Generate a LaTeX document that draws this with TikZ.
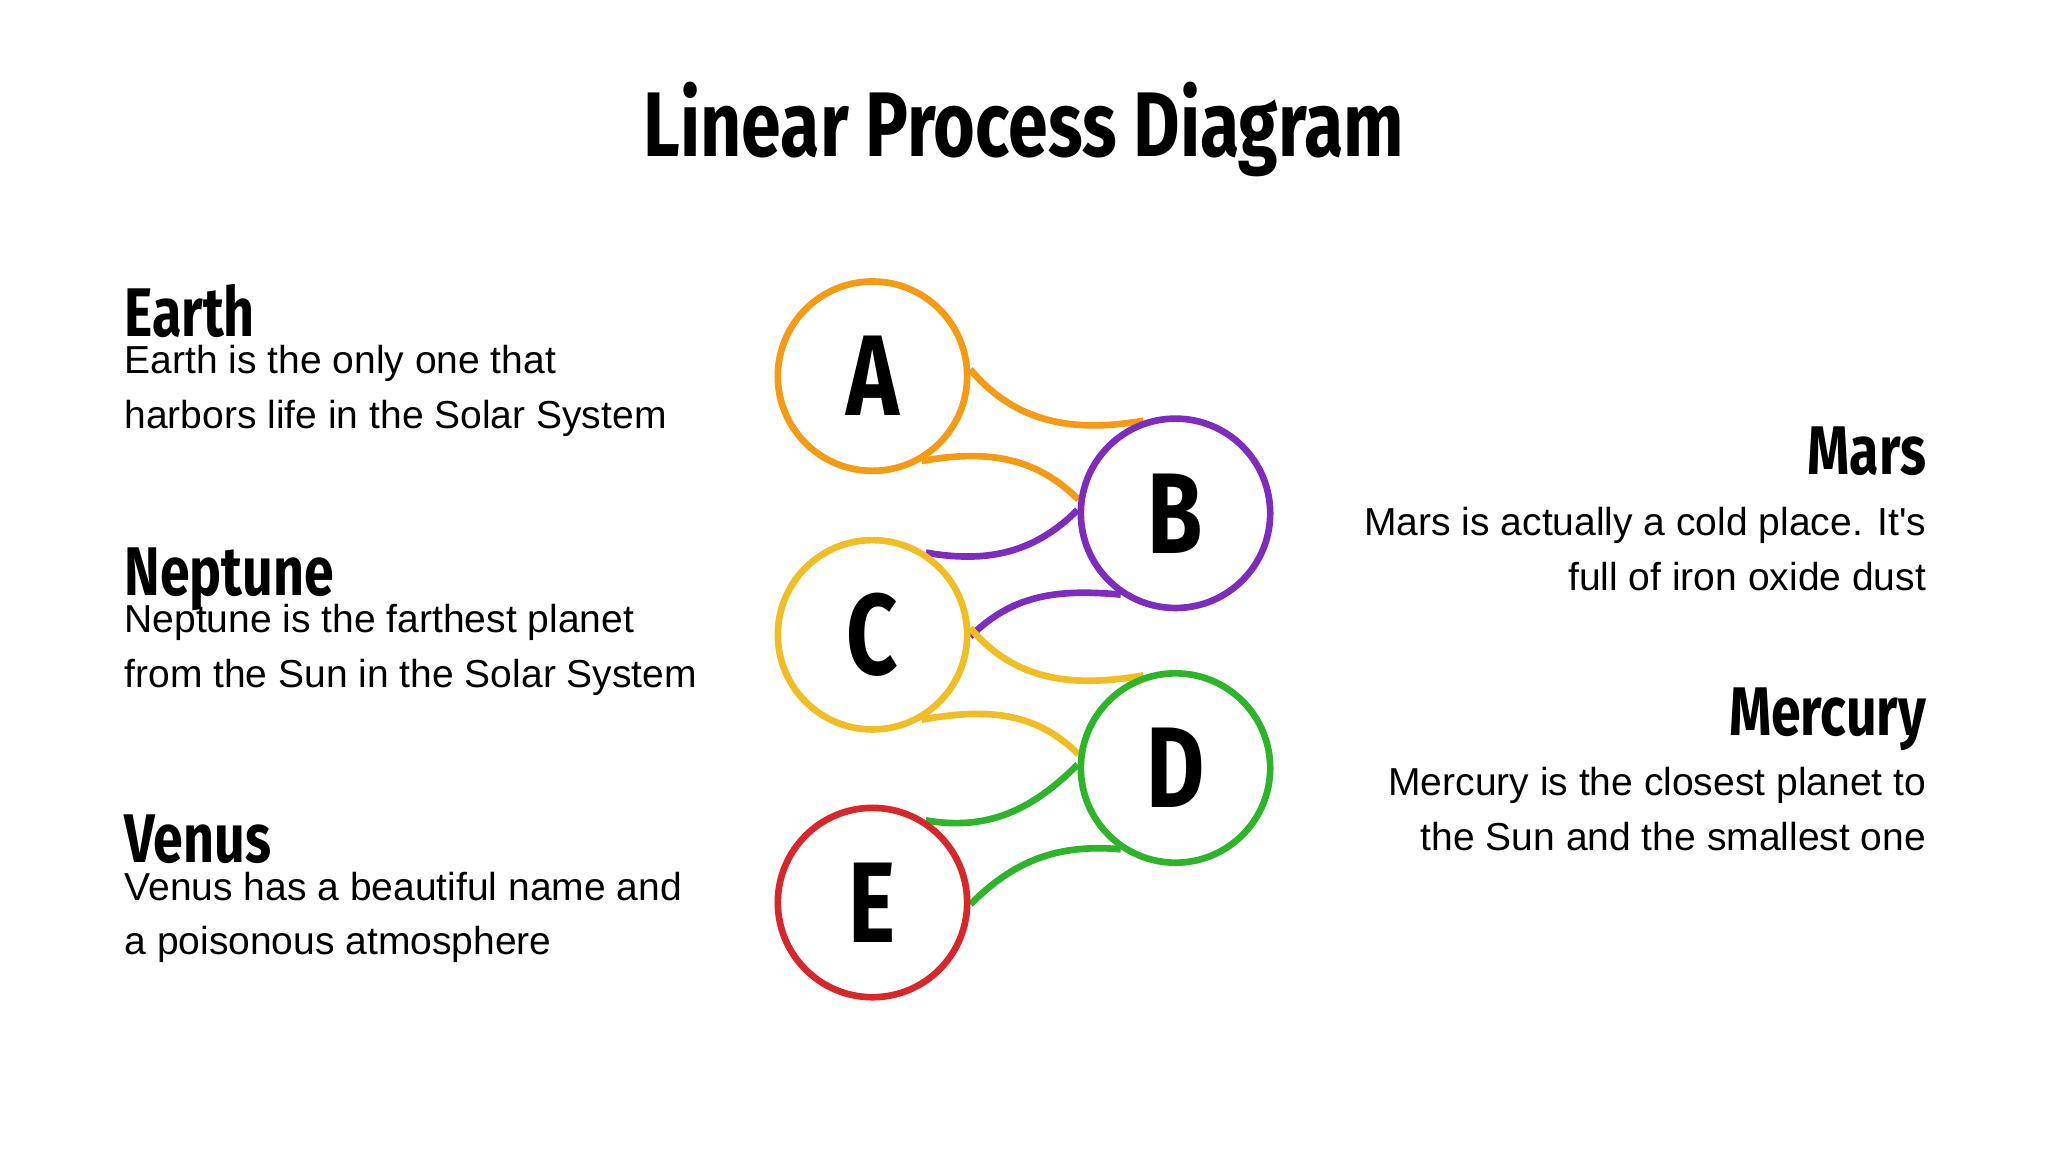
\documentclass[tikz,border=0pt]{standalone}
\usepackage{fontspec}
\setmainfont{Liberation Sans}
\newfontfamily\headfont[FakeStretch=0.78]{Fira Sans Bold}
\begin{document}
\begin{tikzpicture}[x=0.02cm,y=-0.02cm,
  circ/.style={circle,draw,line width=2.9pt,fill=white,minimum size=2.9cm,inner sep=0pt,font=\headfont\fontsize{50}{50}\selectfont},
  conn/.style={line width=2.9pt},
  head/.style={anchor=base west,inner sep=0pt,font=\headfont\fontsize{30}{30}\selectfont},
  body/.style={anchor=base west,inner sep=0pt,font=\fontsize{17}{23.8}\selectfont,align=left},
  headr/.style={head,anchor=base east},
  bodyr/.style={body,anchor=base east,align=right}]
\definecolor{cA}{HTML}{F59A12}
\definecolor{cB}{HTML}{7E2CC0}
\definecolor{cC}{HTML}{F0BE22}
\definecolor{cD}{HTML}{2DB52A}
\definecolor{cE}{HTML}{D9262A}
\useasboundingbox[fill=white] (0,0) rectangle (1568,882);
\node[inner sep=0pt,anchor=base,font=\headfont\fontsize{40}{40}\selectfont] (title) at (784,120) {Linear Process Diagram};
\coordinate (A0) at (668,288);
\coordinate (B0) at (900,393);
\coordinate (C0) at (668,486);
\coordinate (D0) at (900,588);
\coordinate (E0) at (668,691);
\node[circ,draw=none,fill=none] (A) at (A0) {};
\node[circ,draw=none,fill=none] (B) at (B0) {};
\node[circ,draw=none,fill=none] (C) at (C0) {};
\node[circ,draw=none,fill=none] (D) at (D0) {};
\node[circ,draw=none,fill=none] (E) at (E0) {};
\draw[conn,cA] (A.4) to[out=-50,in=190] (B.109);
\draw[conn,cA] (A.-60) to[out=10,in=135] (B.172);
\draw[conn,cB] (B.178) to[out=225,in=-10] (C.57);
\draw[conn,cB] (B.236) to[out=175,in=45] (C.-1);
\draw[conn,cC] (C.4) to[out=-50,in=190] (D.109);
\draw[conn,cC] (C.-60) to[out=10,in=135] (D.172);
\draw[conn,cD] (D.178) to[out=225,in=-10] (E.57);
\draw[conn,cD] (D.236) to[out=175,in=45] (E.-1);
\node[circ,draw=cA] at (A0) {A};
\node[circ,draw=cB] at (B0) {B};
\node[circ,draw=cC] at (C0) {C};
\node[circ,draw=cD] at (D0) {D};
\node[circ,draw=cE] at (E0) {E};
\node[head] (h1) at (95,258) {Earth};
\node[body] (b1) at (95,328) {Earth is the only one that\\harbors life in the Solar System};
\node[head] (h2) at (95,456) {Neptune};
\node[body] (b2) at (95,526) {Neptune is the farthest planet\\from the Sun in the Solar System};
\node[head] (h3) at (95,660) {Venus};
\node[body] (b3) at (95,731) {Venus has a beautiful name and\\a poisonous atmosphere};
\node[headr] (h4) at (1475,363) {Mars};
\node[bodyr] (b4) at (1475,452) {Mars is actually a cold place. It\textquotesingle s\\full of iron oxide dust};
\node[headr] (h5) at (1475,563) {Mercury};
\node[bodyr] (b5) at (1475,651) {Mercury is the closest planet to\\the Sun and the smallest one};
\end{tikzpicture}
\end{document}
